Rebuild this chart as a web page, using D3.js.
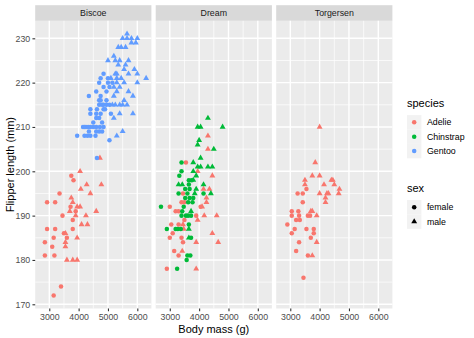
<!DOCTYPE html>
<html>
<head>
<meta charset="utf-8">
<script src="https://cdn.jsdelivr.net/npm/d3@7"></script>
<style>
  body { margin: 0; background: #fff; }
  svg { display: block; }
  text { font-family: "Liberation Sans", Arial, Helvetica, sans-serif; }
</style>
</head>
<body>
<svg id="chart" width="474" height="338"></svg>
<script>
// ---- data -------------------------------------------------------------
const islands = ["Biscoe", "Dream", "Torgersen"];
const species = ["Adelie", "Chinstrap", "Gentoo"];
const speciesColors = ["#F8766D", "#00BA38", "#619CFF"];
const sexes = ["female", "male"];
const massTicks = [3000, 4000, 5000, 6000];
const flipperTicks = [170, 180, 190, 200, 210, 220, 230];

// each row: [body mass (g), flipper length (mm), sex]
const biscoeAdelie = [
  [4725,203,"m"],[4050,200,"m"],[3750,199,"f"],[3825,198,"f"],[4275,197,"m"],[4775,197,"m"],
  [4075,196,"m"],[4400,195,"m"],[3350,195,"f"],[2925,193,"f"],[3200,193,"f"],[3750,194,"m"],
  [3800,193,"m"],[3950,192,"m"],[4050,192,"m"],[3725,192,"f"],[3700,191,"m"],[3900,191,"f"],
  [4600,191,"m"],[3450,190,"f"],[3900,190,"m"],[4250,190,"m"],[3800,189,"f"],[4100,188,"m"],
  [4300,188,"m"],[2925,187,"f"],[3200,187,"f"],[3800,187,"f"],[3500,186,"f"],[3550,186,"m"],
  [3600,185,"f"],[3950,185,"m"],[3150,185,"f"],[2850,184,"f"],[3550,184,"m"],[3100,183,"f"],
  [3550,183,"m"],[2850,181,"f"],[3175,181,"f"],[3600,180,"m"],[3800,180,"m"],[3950,180,"m"],
  [3400,174,"f"],[3150,172,"f"]
];
const biscoeGentoo = [
  [5650,231,"m"],[5500,230,"m"],[5650,230,"m"],[5800,230,"m"],[6000,230,"m"],[5800,229,"m"],
  [5950,229,"m"],[5350,228,"m"],[5450,228,"m"],[5600,228,"m"],[5200,226,"m"],[5000,225,"m"],
  [5250,225,"m"],[5400,225,"m"],[5700,225,"m"],[5350,224,"m"],[5600,224,"m"],[5550,223,"m"],
  [5900,223,"m"],[4850,222,"f"],[5250,222,"m"],[5300,222,"m"],[5700,222,"m"],[6000,222,"m"],
  [4750,221,"f"],[5000,221,"f"],[5100,221,"m"],[5300,221,"m"],[5450,221,"m"],[6300,221,"m"],
  [4700,220,"f"],[5000,220,"f"],[5150,220,"f"],[5300,220,"m"],[5550,220,"m"],[6000,220,"m"],
  [4850,219,"f"],[5050,219,"f"],[5200,219,"m"],[5400,219,"m"],[4600,218,"f"],[4950,218,"f"],
  [5300,218,"m"],[5700,218,"m"],[4350,217,"f"],[4750,217,"f"],[5200,217,"m"],[5850,217,"m"],
  [4700,216,"f"],[4750,216,"f"],[4950,216,"f"],[5550,216,"m"],[4700,215,"f"],[4800,215,"f"],
  [4850,215,"f"],[4950,215,"f"],[5050,215,"f"],[5150,215,"m"],[5250,215,"m"],[5400,215,"m"],
  [5500,215,"m"],[5650,215,"m"],[4400,214,"f"],[4625,214,"f"],[4850,214,"f"],[4900,214,"f"],
  [4400,213,"f"],[4600,213,"f"],[4750,213,"f"],[5100,213,"f"],[5400,213,"m"],[5850,213,"m"],
  [4600,212,"f"],[4700,212,"f"],[5200,212,"m"],[4500,211,"f"],[4800,211,"f"],[4150,210,"f"],
  [4200,210,"f"],[4250,210,"f"],[4325,210,"f"],[4400,210,"f"],[4500,210,"f"],[4600,210,"f"],
  [4725,210,"f"],[4850,210,"f"],[4350,209,"f"],[4600,209,"f"],[4700,209,"f"],[4800,209,"f"],
  [5500,209,"m"],[3950,208,"f"],[4200,208,"f"],[4300,208,"f"],[4400,208,"f"],[4575,208,"f"],
  [5300,208,"m"],[5050,207,"f"],[4625,203,"f"]
];
const dreamAdelie = [
  [4300,208,"m"],[4300,205,"m"],[3550,202,"f"],[3950,200,"m"],[4450,199,"m"],[4150,196,"m"],
  [4350,196,"m"],[3450,195,"f"],[4250,194,"m"],[3400,193,"f"],[3500,193,"f"],[4250,193,"m"],
  [3000,192,"f"],[4050,192,"f"],[4100,192,"m"],[3200,191,"f"],[3300,191,"f"],[3900,190,"f"],
  [4175,190,"m"],[4600,190,"m"],[3500,189,"f"],[3950,189,"m"],[3050,188,"f"],[3300,188,"f"],
  [3450,188,"m"],[3475,187,"m"],[3100,186,"f"],[4450,186,"m"],[3000,185,"f"],[3400,185,"f"],
  [3450,184,"f"],[3900,184,"m"],[4650,184,"m"],[3150,182,"f"],[3425,182,"m"],[3300,181,"f"],
  [2900,178,"f"],[3900,178,"m"]
];
const dreamChinstrap = [
  [4300,212,"m"],[3950,210,"m"],[4050,210,"m"],[4800,210,"m"],[4000,207,"m"],[3950,206,"m"],
  [4500,205,"m"],[4050,203,"m"],[3400,202,"f"],[3800,202,"m"],[3950,201,"m"],[4050,201,"m"],
  [4300,201,"m"],[4450,201,"m"],[3400,200,"f"],[3800,200,"m"],[3325,199,"f"],[3900,199,"m"],
  [3650,198,"f"],[3750,198,"f"],[3800,198,"m"],[3300,197,"m"],[3425,197,"m"],[3650,197,"f"],
  [4150,197,"m"],[3525,196,"f"],[3675,196,"f"],[3900,196,"m"],[3300,195,"f"],[3600,195,"f"],
  [3850,195,"m"],[4150,195,"f"],[4400,195,"m"],[3525,194,"f"],[3675,194,"f"],[3800,194,"f"],
  [3625,193,"f"],[3775,193,"f"],[2700,192,"f"],[3475,192,"f"],[3425,191,"f"],[3725,191,"m"],
  [3400,190,"f"],[3550,190,"f"],[3625,190,"f"],[3725,190,"f"],[3650,188,"f"],[2900,187,"f"],
  [3200,187,"f"],[3275,187,"f"],[3375,187,"f"],[3650,187,"m"],[3650,185,"m"],[3725,185,"f"],
  [3600,181,"f"],[3700,181,"f"],[3575,180,"f"],[3250,178,"f"]
];
const torgersenAdelie = [
  [4000,210,"m"],[3850,202,"m"],[3750,199,"m"],[4000,199,"m"],[3500,198,"m"],[4400,198,"m"],
  [4450,198,"m"],[3500,197,"m"],[4150,197,"m"],[4500,197,"m"],[3550,196,"f"],[4675,196,"m"],
  [3250,195,"f"],[3425,195,"f"],[4000,195,"m"],[4250,195,"m"],[4300,195,"m"],[4650,195,"m"],
  [4200,194,"m"],[4200,193,"m"],[3425,193,"f"],[3050,191,"f"],[3275,191,"f"],[3700,191,"m"],
  [3750,191,"m"],[3050,190,"f"],[3300,190,"f"],[3600,190,"f"],[3675,190,"f"],[3900,190,"m"],
  [3200,189,"f"],[3325,189,"f"],[2900,188,"f"],[3150,187,"f"],[3550,187,"f"],[3800,187,"f"],
  [3050,186,"f"],[3800,186,"f"],[3700,185,"f"],[3300,184,"f"],[3900,184,"m"],[3200,182,"f"],
  [3600,181,"f"],[3750,181,"m"],[3450,176,"f"]
];

const groups = [
  { island: "Biscoe", species: "Adelie", rows: biscoeAdelie },
  { island: "Biscoe", species: "Gentoo", rows: biscoeGentoo },
  { island: "Dream", species: "Adelie", rows: dreamAdelie },
  { island: "Dream", species: "Chinstrap", rows: dreamChinstrap },
  { island: "Torgersen", species: "Adelie", rows: torgersenAdelie }
];
const penguins = groups.flatMap(g => g.rows.map(r => ({
  island: g.island, species: g.species, mass: r[0], flipper: r[1],
  sex: r[2] === "f" ? "female" : "male"
})));

// ---- layout -----------------------------------------------------------
const svg = d3.select("#chart");
const panelTop = 20.8, panelBottom = 308.5;
const panelW = 116.2, panelGap = 4.3, plotLeft = 35.2;
const stripTop = 5.2;
const panelX = i => plotLeft + i * (panelW + panelGap);

// 5% padding on both sides, as in ggplot's continuous scales
function expand(ext) {
  const pad = (ext[1] - ext[0]) * 0.05;
  return [ext[0] - pad, ext[1] + pad];
}
const x = d3.scaleLinear().domain(expand(d3.extent(penguins, d => d.mass))).range([0, panelW]);
const y = d3.scaleLinear().domain(expand(d3.extent(penguins, d => d.flipper))).range([panelBottom, panelTop]);
const color = d3.scaleOrdinal(species, speciesColors);
const shape = d3.scaleOrdinal(sexes, [d3.symbolCircle, d3.symbolTriangle]);
const symbolSize = { female: 16, male: 15 };
const sym = s => d3.symbol().type(shape(s)).size(symbolSize[s])();

const minorX = d3.range(2500, 7000, 1000).filter(v => v > x.domain()[0] && v < x.domain()[1]);
const minorY = d3.range(165, 240, 10).filter(v => v > y.domain()[0] && v < y.domain()[1]);

islands.forEach((isl, i) => {
  const g = svg.append("g").attr("transform", `translate(${panelX(i)},0)`);
  // panel background
  g.append("rect").attr("x", 0).attr("y", panelTop).attr("width", panelW)
    .attr("height", panelBottom - panelTop).attr("fill", "#EBEBEB");
  // strip
  g.append("rect").attr("x", 0).attr("y", stripTop).attr("width", panelW)
    .attr("height", panelTop - stripTop).attr("fill", "#D9D9D9");
  g.append("text").attr("x", panelW / 2).attr("y", (stripTop + panelTop) / 2).attr("dy", "0.35em")
    .attr("text-anchor", "middle").attr("font-size", 8.8).attr("fill", "#1A1A1A").text(isl);
  // grid lines
  g.selectAll(".mx").data(minorX).join("line")
    .attr("x1", d => x(d)).attr("x2", d => x(d)).attr("y1", panelTop).attr("y2", panelBottom)
    .attr("stroke", "#fff").attr("stroke-width", 0.7);
  g.selectAll(".my").data(minorY).join("line")
    .attr("x1", 0).attr("x2", panelW).attr("y1", d => y(d)).attr("y2", d => y(d))
    .attr("stroke", "#fff").attr("stroke-width", 0.7);
  g.selectAll(".gx").data(massTicks).join("line")
    .attr("x1", d => x(d)).attr("x2", d => x(d)).attr("y1", panelTop).attr("y2", panelBottom)
    .attr("stroke", "#fff").attr("stroke-width", 1.4);
  g.selectAll(".gy").data(flipperTicks).join("line")
    .attr("x1", 0).attr("x2", panelW).attr("y1", d => y(d)).attr("y2", d => y(d))
    .attr("stroke", "#fff").attr("stroke-width", 1.4);
  // points
  g.selectAll(".pt").data(penguins.filter(d => d.island === isl)).join("path")
    .attr("transform", d => `translate(${x(d.mass)},${y(d.flipper)})`)
    .attr("d", d => sym(d.sex)).attr("fill", d => color(d.species));
  // x axis
  const ax = g.append("g").attr("transform", `translate(0,${panelBottom})`)
    .call(d3.axisBottom(x).tickValues(massTicks).tickFormat(d3.format("d")).tickSize(2.75).tickPadding(2.2));
  ax.select(".domain").remove();
  ax.selectAll("line").attr("stroke", "#333333").attr("stroke-width", 1.1);
  ax.selectAll("text").attr("font-size", 8.8).attr("fill", "#4D4D4D")
    .attr("font-family", "'Liberation Sans', Arial, sans-serif");
  // y axis on the first panel only
  if (i === 0) {
    const ay = g.append("g").call(d3.axisLeft(y).tickValues(flipperTicks).tickSize(2.75).tickPadding(2.2));
    ay.select(".domain").remove();
    ay.selectAll("line").attr("stroke", "#333333").attr("stroke-width", 1.1);
    ay.selectAll("text").attr("font-size", 8.8).attr("fill", "#4D4D4D")
      .attr("font-family", "'Liberation Sans', Arial, sans-serif");
  }
});

// axis titles
const plotRight = panelX(2) + panelW;
svg.append("text").attr("x", (plotLeft + plotRight) / 2).attr("y", 332.5)
  .attr("text-anchor", "middle").attr("font-size", 11).attr("fill", "#000").text("Body mass (g)");
svg.append("text").attr("transform", `translate(14,${(panelTop + panelBottom) / 2}) rotate(-90)`)
  .attr("text-anchor", "middle").attr("font-size", 11).attr("fill", "#000").text("Flipper length (mm)");

// ---- legends ----------------------------------------------------------
const legX = 407, keySize = 14.4;
function legend(title, titleY, keysTop, items, drawKey) {
  svg.append("text").attr("x", legX).attr("y", titleY).attr("font-size", 11).attr("fill", "#000").text(title);
  items.forEach((it, k) => {
    const cy = keysTop + k * keySize + keySize / 2;
    svg.append("rect").attr("x", legX).attr("y", keysTop + k * keySize)
      .attr("width", keySize).attr("height", keySize).attr("fill", "#F2F2F2");
    drawKey(it, legX + keySize / 2, cy);
    svg.append("text").attr("x", legX + keySize + 5.5).attr("y", cy).attr("dy", "0.35em")
      .attr("font-size", 8.8).attr("fill", "#000").text(it);
  });
}
legend("species", 107, 115.1, species, (s, cx, cy) => {
  svg.append("path").attr("transform", `translate(${cx},${cy})`)
    .attr("d", sym("female")).attr("fill", color(s));
});
legend("sex", 192, 200, sexes, (s, cx, cy) => {
  svg.append("path").attr("transform", `translate(${cx},${cy})`)
    .attr("d", sym(s)).attr("fill", "#000");
});
</script>
</body>
</html>
